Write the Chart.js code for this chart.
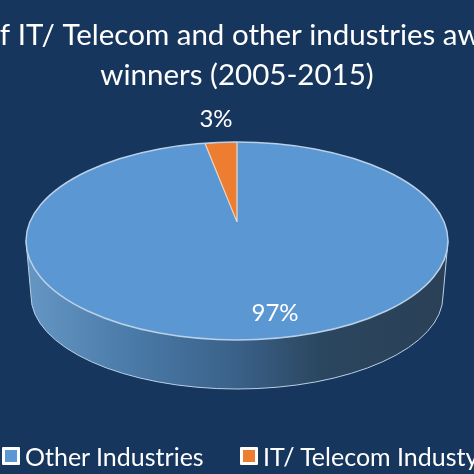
<!DOCTYPE html>
<html>
<head>
<meta charset="utf-8">
<style>
html, body { margin: 0; padding: 0; background: #17365d; }
#wrap { position: relative; width: 474px; height: 474px; overflow: hidden; }
#chart { position: absolute; left: -83px; top: 0; }
#legend { position: absolute; left: 2px; top: 441px; display: flex; white-space: nowrap; color: #fff; font: 25px Lato, "Open Sans", sans-serif; line-height: 30px; }
.item { display: flex; align-items: center; width: 238px; flex: none; }
.swatch { width: 18px; height: 18px; box-sizing: border-box; border: 3px solid #fff; border-radius: 1px; margin-right: 5px; flex: none; }
</style>
</head>
<body>
<div id="wrap"><canvas id="chart" width="640" height="474"></canvas><div id="legend"></div></div>
<script src="https://cdn.jsdelivr.net/npm/chart.js@4"></script>
<script>
const titleLines = ['% of IT/ Telecom and other industries award', 'winners (2005-2015)'];
const categories = ['Other Industries', 'IT/ Telecom Industy'];
const shares = [97, 3];
const sliceColors = ['#5b97d3', '#ed7d31'];

const RIM = '#b9d0e6';
const FONT = 'Lato, "Open Sans", sans-serif';

// disc geometry on the canvas (perspective look of the original)
const FACE = { cy: 241, ry: 99 };
const FOOT = { cy: 296, ry: 93, rx: 206 };
const WEDGE = { cy: 222, ry: 80, sx: 0.81 };
const LABEL_OFFSET = [{ dx: 38, dy: 72 }, { dx: -21, dy: -122 }];

// squash the round pie into the tilted disc, wall goes underneath
const discPlugin = {
    id: 'disc',
    beforeDatasetDraw(chart) {
        const ctx = chart.ctx;
        const arcs = chart.getDatasetMeta(0).data;
        const x = arcs[0].x, r = arcs[0].outerRadius;

        const grad = ctx.createLinearGradient(x - r, 0, x + r, 0);
        grad.addColorStop(0, '#6596c4');
        grad.addColorStop(0.25, '#4a7aa8');
        grad.addColorStop(0.5, '#3a6189');
        grad.addColorStop(0.7, '#2b465f');
        grad.addColorStop(1, '#2a4056');

        ctx.save();
        ctx.beginPath();
        ctx.moveTo(x - r, FACE.cy);
        ctx.lineTo(x - FOOT.rx, FOOT.cy);
        ctx.ellipse(x, FOOT.cy, FOOT.rx, FOOT.ry, 0, Math.PI, 0, true);
        ctx.lineTo(x + r, FACE.cy);
        ctx.closePath();
        ctx.fillStyle = grad;
        ctx.fill();
        ctx.strokeStyle = RIM;
        ctx.lineWidth = 1;
        ctx.stroke();

        ctx.beginPath();
        ctx.ellipse(x, FACE.cy, r, FACE.ry, 0, 0, Math.PI * 2);
        ctx.fillStyle = sliceColors[0];
        ctx.fill();
        ctx.restore();

        arcs[1].hidden = true;
        ctx.save();
        ctx.translate(x, FACE.cy);
        ctx.scale(1, FACE.ry / r);
        ctx.translate(-x, -arcs[0].y);
    },
    afterDatasetDraw(chart) {
        const ctx = chart.ctx;
        const arcs = chart.getDatasetMeta(0).data;
        const x = arcs[0].x, r = arcs[0].outerRadius;
        ctx.restore();

        ctx.save();
        ctx.translate(x, WEDGE.cy);
        ctx.scale(WEDGE.sx, WEDGE.ry / r);
        ctx.translate(-x, -arcs[1].y);
        arcs[1].draw(ctx, chart.chartArea);
        ctx.restore();

        ctx.save();
        ctx.beginPath();
        ctx.ellipse(x, FACE.cy, r, FACE.ry, 0, 0, Math.PI * 2);
        ctx.strokeStyle = RIM;
        ctx.lineWidth = 1.5;
        ctx.stroke();

        ctx.fillStyle = '#ffffff';
        ctx.font = '24px ' + FONT;
        ctx.textAlign = 'center';
        ctx.textBaseline = 'middle';
        shares.forEach((v, i) => {
            ctx.fillText(v + '%', x + LABEL_OFFSET[i].dx, FACE.cy + LABEL_OFFSET[i].dy);
        });
        ctx.restore();
    }
};

new Chart(document.getElementById('chart'), {
    type: 'pie',
    data: {
        labels: categories,
        datasets: [{
            data: shares,
            backgroundColor: sliceColors,
            borderColor: ['rgba(0,0,0,0)', '#e8d9c8'],
            borderWidth: [0, 1.5],
            radius: 211,
            clip: false
        }]
    },
    options: {
        responsive: false,
        animation: false,
        plugins: {
            tooltip: { enabled: false },
            legend: { display: false },
            title: {
                display: true,
                text: titleLines,
                color: '#ffffff',
                font: { family: FONT, size: 29.5, weight: 'normal', lineHeight: 1.34 },
                padding: { top: 16, bottom: 0 }
            }
        }
    },
    plugins: [discPlugin]
});

// legend sits partly outside the picture, as in the original
const legend = document.getElementById('legend');
categories.forEach((name, i) => {
    const item = document.createElement('div');
    item.className = 'item';
    const box = document.createElement('span');
    box.className = 'swatch';
    box.style.background = sliceColors[i];
    item.appendChild(box);
    item.appendChild(document.createTextNode(name));
    legend.appendChild(item);
});
</script>
</body>
</html>
